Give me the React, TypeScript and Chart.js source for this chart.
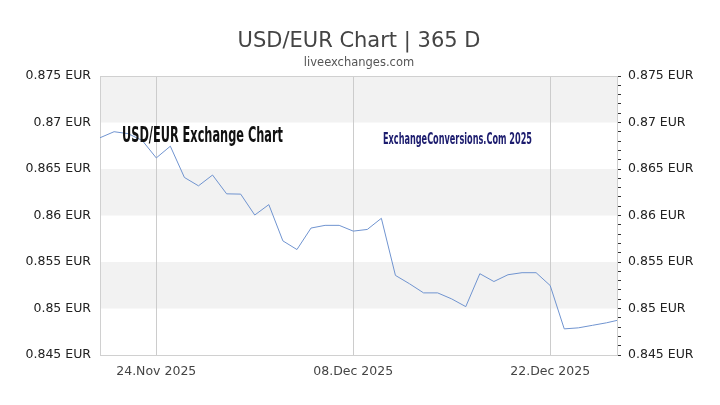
import React, { useEffect, useRef } from "react";
import { Chart, registerables } from "chart.js";

Chart.register(...registerables);

// days since 20.Nov 2025
const dayOffsets: number[] = [
  0, 1, 2, 3, 4, 5, 6, 7, 8, 9, 10, 11, 12, 13, 14, 15, 16, 17, 18, 19,
  20, 21, 22, 23, 24, 25, 26, 27, 28, 29, 30, 31, 32, 33, 34, 35, 36, 36.75,
];

const rates: number[] = [
  0.86836, 0.86901, 0.8688, 0.86807, 0.86619, 0.86745, 0.86409,
  0.86319, 0.86435, 0.86233, 0.8623, 0.86005, 0.86117, 0.85727,
  0.85634, 0.85865, 0.85894, 0.85894, 0.85832, 0.8585, 0.8597,
  0.85356, 0.85266, 0.85168, 0.85168, 0.85103, 0.8502, 0.85374,
  0.8529, 0.85363, 0.85385, 0.85385, 0.85247, 0.84781, 0.84792,
  0.84819, 0.84846, 0.84872,
];

const xTickDays: number[] = [4, 18, 32];
const xTickLabels: string[] = ["24.Nov 2025", "08.Dec 2025", "22.Dec 2025"];

const yMin = 0.845;
const yMax = 0.875;
const yStep = 0.005;

const chartTitle = "USD/EUR Chart | 365 D";
const chartSubtitle = "liveexchanges.com";
const overlayTitle = "USD/EUR Exchange Chart";
const overlayBrand = "ExchangeConversions.Com 2025";

const fmt = (v: number) => parseFloat(v.toFixed(3)) + " EUR";

const decorPlugin = {
  id: "decor",
  beforeDatasetsDraw(chart: any) {
    const { ctx, chartArea } = chart;
    const y = chart.scales.y;
    ctx.save();
    let idx = 0;
    for (let v = yMax; v > yMin + 1e-9; v -= yStep) {
      const top = y.getPixelForValue(v);
      const bot = y.getPixelForValue(v - yStep);
      if (idx % 2 === 0) {
        ctx.fillStyle = "#f2f2f2";
        ctx.fillRect(chartArea.left, top, chartArea.right - chartArea.left, bot - top);
      }
      idx++;
    }
    const x = chart.scales.x;
    ctx.strokeStyle = "#cccccc";
    ctx.lineWidth = 1;
    xTickDays.forEach((d) => {
      const px = Math.round(x.getPixelForValue(d)) + 0.5;
      ctx.beginPath();
      ctx.moveTo(px, chartArea.top);
      ctx.lineTo(px, chartArea.bottom);
      ctx.stroke();
    });
    ctx.strokeStyle = "#d0d0d0";
    ctx.strokeRect(
      Math.round(chartArea.left) + 0.5,
      Math.round(chartArea.top) + 0.5,
      Math.round(chartArea.right - chartArea.left),
      Math.round(chartArea.bottom - chartArea.top)
    );
    ctx.restore();
  },
  afterDatasetsDraw(chart: any) {
    const { ctx, chartArea } = chart;
    ctx.save();
    const drawFit = (text: string, left: number, baseline: number, width: number, font: string, color: string) => {
      ctx.font = font;
      ctx.fillStyle = color;
      ctx.textAlign = "left";
      ctx.textBaseline = "alphabetic";
      const w = ctx.measureText(text).width;
      ctx.save();
      ctx.translate(left, baseline);
      ctx.scale(width / w, 1);
      ctx.fillText(text, 0, 0);
      ctx.restore();
    };
    drawFit(overlayTitle, chartArea.left + 22, 142, 161, "bold 21px 'DejaVu Sans Condensed', 'DejaVu Sans'", "#111111");
    drawFit(overlayBrand, chartArea.left + 283, 143.5, 149, "bold 15px 'DejaVu Sans Condensed', 'DejaVu Sans'", "#1c1c6e");
    ctx.textAlign = "center";
    ctx.textBaseline = "alphabetic";
    ctx.fillStyle = "#444444";
    ctx.font = "21px 'DejaVu Sans'";
    ctx.fillText(chartTitle, 359, 47);
    ctx.fillStyle = "#555555";
    ctx.font = "11.5px 'DejaVu Sans'";
    ctx.fillText(chartSubtitle, 359, 66);
    ctx.restore();
  },
};

export default function App() {
  const ref = useRef<HTMLCanvasElement | null>(null);
  useEffect(() => {
    document.body.style.margin = "0";
    if (!ref.current) return;
    const chart = new Chart(ref.current, {
      type: "line",
      data: {
        datasets: [
          {
            data: dayOffsets.map((d, i) => ({ x: d, y: rates[i] })),
            borderColor: "#7094d0",
            borderWidth: 1,
            pointRadius: 0,
            tension: 0,
            fill: false,
          },
        ],
      },
      options: {
        animation: false,
        responsive: false,
        devicePixelRatio: 1,
        layout: { padding: { top: 76, left: 0, right: 0, bottom: 0 } },
        plugins: {
          legend: { display: false },
          tooltip: { enabled: false },
          title: { display: false },
        },
        scales: {
          x: {
            type: "linear",
            min: dayOffsets[0],
            max: dayOffsets[dayOffsets.length - 1],
            afterFit: (s: any) => {
              s.height = 50;
            },
            afterBuildTicks: (s: any) => {
              s.ticks = xTickDays.map((d) => ({ value: d }));
            },
            grid: { display: false, drawTicks: false },
            border: { display: false },
            ticks: {
              autoSkip: false,
              maxRotation: 0,
              padding: 9,
              color: "#444444",
              font: { family: "'DejaVu Sans'", size: 12.5 },
              callback: (v: any) => {
                const i = xTickDays.indexOf(Number(v));
                return i >= 0 ? xTickLabels[i] : null;
              },
            },
          },
          y: {
            type: "linear",
            position: "left",
            min: yMin,
            max: yMax,
            afterFit: (s: any) => {
              s.width = 100;
            },
            grid: { drawOnChartArea: false, drawTicks: false },
            border: { display: false },
            ticks: {
              stepSize: yStep,
              padding: 9,
              color: "#222222",
              font: { family: "'DejaVu Sans'", size: 12.5 },
              callback: (v: any) => fmt(Number(v)),
            },
          },
          y2: {
            type: "linear",
            position: "right",
            min: yMin,
            max: yMax,
            afterFit: (s: any) => {
              s.width = 103;
            },
            grid: { drawOnChartArea: false, drawTicks: true, tickLength: 4, color: "#333333" },
            border: { display: false },
            ticks: {
              stepSize: 0.001,
              autoSkip: false,
              padding: 7,
              color: "#222222",
              font: { family: "'DejaVu Sans'", size: 12.5 },
              callback: (v: any) => {
                const n = Number(v);
                return Math.abs(n * 200 - Math.round(n * 200)) < 1e-6 ? fmt(n) : "";
              },
            },
          },
        },
      } as any,
      plugins: [decorPlugin],
    });
    return () => chart.destroy();
  }, []);
  return (
    <div style={{ width: 720, height: 405, background: "#ffffff" }}>
      <canvas ref={ref} width={720} height={405} style={{ width: 720, height: 405, display: "block" }} />
    </div>
  );
}
